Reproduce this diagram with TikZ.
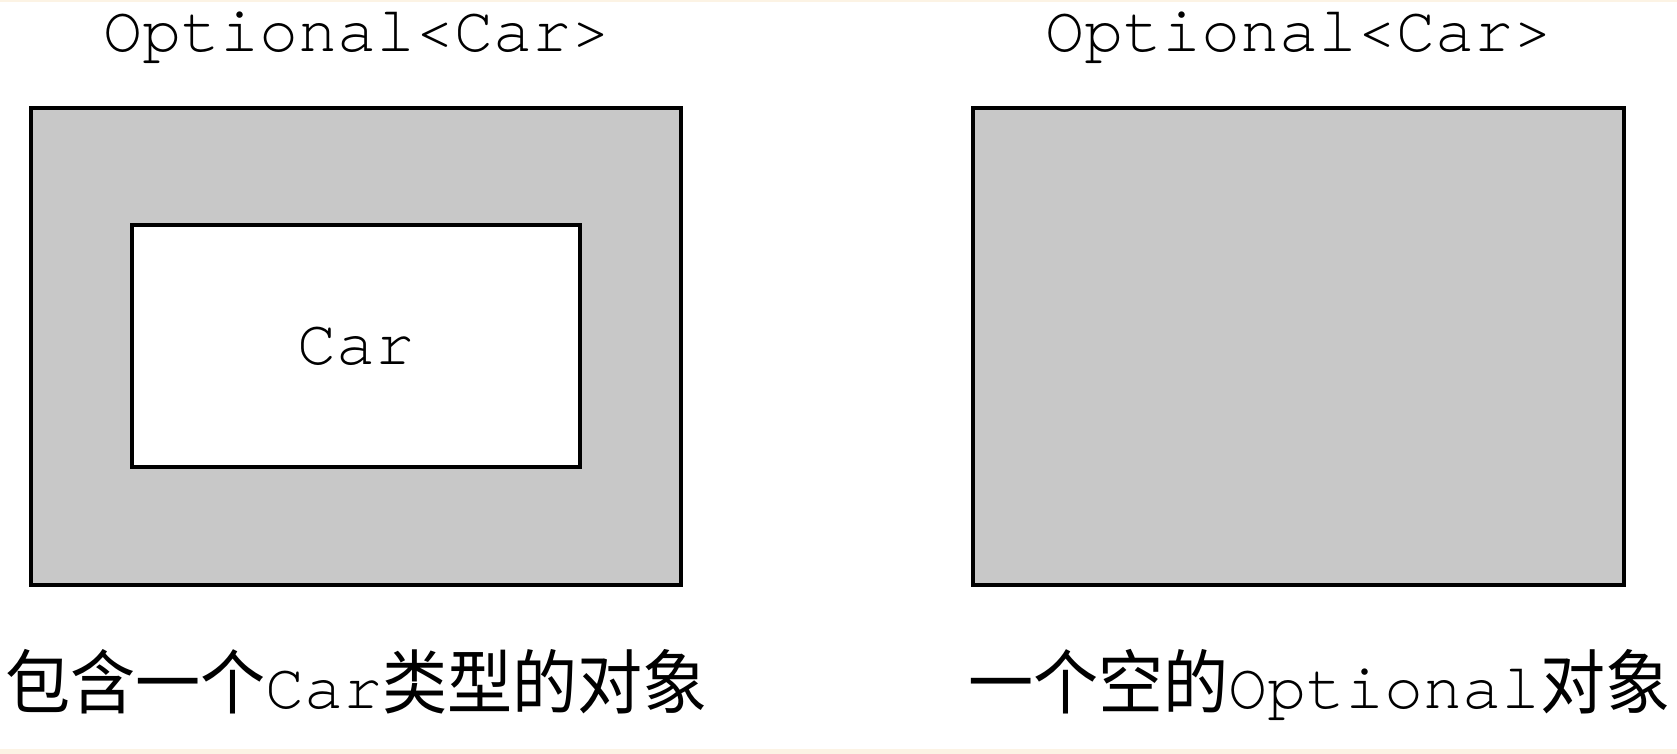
\documentclass[tikz,border=0pt]{standalone}
\usepackage{fontspec}
\setmonofont{texgyrecursor-regular.otf}
\newfontfamily\cjk[FakeStretch=0.93]{Noto Sans CJK SC}
\newcommand{\cjkt}[1]{{\fontsize{70}{84}\selectfont\cjk #1}}
\definecolor{boxgray}{RGB}{200,200,200}
\definecolor{beige}{RGB}{252,243,228}
\begin{document}
\begin{tikzpicture}[x=1pt,y=-1pt,
  boxstyle/.style={draw=black, line width=3.5pt, inner sep=0pt, outer sep=0pt},
  lbl/.style={inner sep=0pt, outer sep=0pt, anchor=base, font=\fontsize{65}{78}\selectfont\ttfamily}]
\useasboundingbox (0,0) rectangle (1677,754);
\fill[white] (0,0) rectangle (1677,754);
\fill[beige] (0,0) rectangle (1677,2);
\fill[beige] (0,749) rectangle (1677,754);
% left
\node[boxstyle, fill=boxgray, minimum width=650pt, minimum height=477pt] (outerL) at (356,346.5) {};
\node[boxstyle, fill=white, minimum width=448pt, minimum height=242pt] (innerL) at (356,346) {};
\node[lbl] (carIn) at (356,364) {Car};
\node[lbl] (titleL) at (357,52) {Optional<Car>};
\node[lbl] (capL) at (356.5,708) {\cjkt{包含一个}Car\cjkt{类型的对象}};
% right
\node[boxstyle, fill=boxgray, minimum width=651pt, minimum height=477pt] (outerR) at (1298.5,346.5) {};
\node[lbl] (titleR) at (1299,52) {Optional<Car>};
\node[lbl, anchor=base west] (capR) at (968,708) {\cjkt{一个空的}Optional\cjkt{对象}};
\end{tikzpicture}
\end{document}
